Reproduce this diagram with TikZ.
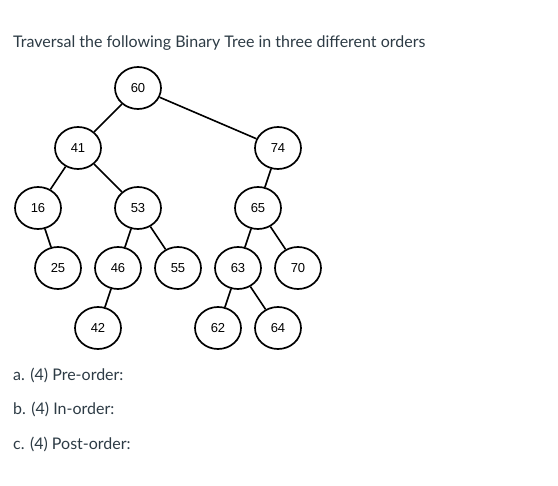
\documentclass[tikz,border=0pt]{standalone}
\usepackage{fontspec}
\setmainfont{Lato}
\newfontfamily\treefont{Liberation Sans}
\usepackage{xcolor}
\usetikzlibrary{positioning,shapes.geometric}
\definecolor{textgray}{HTML}{2D3B45}

\begin{document}
\begin{tikzpicture}[x=1pt,y=-1pt,
    key/.style={draw,ellipse,line width=1.7pt,minimum width=46pt,minimum height=42pt,
                inner sep=0pt,font=\treefont\fontsize{13}{14}\selectfont},
    txt/.style={anchor=base west,inner sep=0pt,text=textgray,font=\fontsize{16}{18}\selectfont},
    edge/.style={line width=1.6pt}]
    \useasboundingbox (0,0) rectangle (558,486);
    \node[txt] (title) at (13,48) {Traversal the following Binary Tree in three different orders};
    % tree
    \node[key] (n60) at (138,88)  {60};
    \node[key] (n41) at (78,148)  {41};
    \node[key] (n74) at (278,148) {74};
    \node[key] (n16) at (38,208)  {16};
    \node[key] (n53) at (138,208) {53};
    \node[key] (n65) at (258,208) {65};
    \node[key] (n25) at (58,268)  {25};
    \node[key] (n46) at (118,268) {46};
    \node[key] (n55) at (178,268) {55};
    \node[key] (n63) at (238,268) {63};
    \node[key] (n70) at (298,268) {70};
    \node[key] (n42) at (98,328)  {42};
    \node[key] (n62) at (218,328) {62};
    \node[key] (n64) at (278,328) {64};
    \draw[edge] (n60) -- (n41);
    \draw[edge] (n60) -- (n74);
    \draw[edge] (n41) -- (n16);
    \draw[edge] (n41) -- (n53);
    \draw[edge] (n16) -- (n25);
    \draw[edge] (n53) -- (n46);
    \draw[edge] (n53) -- (n55);
    \draw[edge] (n46) -- (n42);
    \draw[edge] (n74) -- (n65);
    \draw[edge] (n65) -- (n63);
    \draw[edge] (n65) -- (n70);
    \draw[edge] (n63) -- (n62);
    \draw[edge] (n63) -- (n64);
    % questions
    \node[txt] (pre)  at (13,381) {a. (4) Pre-order:};
    \node[txt] (in)   at (13,415) {b. (4) In-order:};
    \node[txt] (post) at (13,450) {c. (4) Post-order:};
\end{tikzpicture}
\end{document}
